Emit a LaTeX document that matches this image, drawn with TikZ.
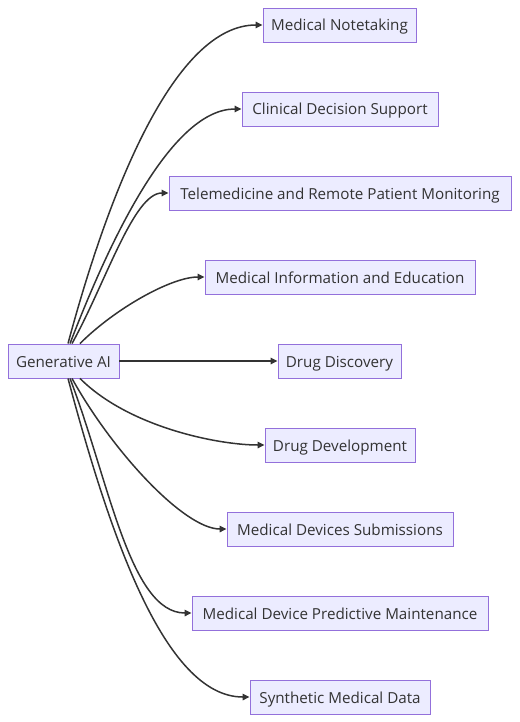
\documentclass[tikz,border=0pt]{standalone}
\usepackage{fontspec}
\setmainfont{Open Sans}
\usetikzlibrary{arrows.meta}
\definecolor{boxfill}{HTML}{ECECFF}
\definecolor{boxline}{HTML}{9370DB}
\definecolor{edgeline}{HTML}{333333}

\begin{document}
\begin{tikzpicture}[x=1pt,y=-1pt,
    every node/.style={draw=boxline,fill=boxfill,line width=0.9pt,minimum height=34pt,inner xsep=0pt,text height=13pt,text depth=1pt,font=\fontsize{15.2}{17}\selectfont,text=edgeline},
    edge/.style={draw=edgeline,line width=1.5pt,-{Triangle[length=7pt,width=6.5pt]}}]
    \useasboundingbox (0,0) rectangle (519,722);
    \node[minimum width=111pt] (genai) at (63.5,361) {Generative AI};
    \node[minimum width=153pt] (notes) at (339.5,25) {Medical Notetaking};
    \node[minimum width=196pt] (cds) at (340,109) {Clinical Decision Support};
    \node[minimum width=342pt] (tele) at (340,193) {Telemedicine and Remote Patient Monitoring};
    \node[minimum width=270pt] (info) at (340,277) {Medical Information and Education};
    \node[minimum width=123pt] (disc) at (339.5,361) {Drug Discovery};
    \node[minimum width=150pt] (dev) at (340,445) {Drug Development};
    \node[minimum width=226pt] (subm) at (340,529) {Medical Devices Submissions};
    \node[minimum width=296pt] (maint) at (340,613) {Medical Device Predictive Maintenance};
    \node[minimum width=180pt] (synth) at (340,697) {Synthetic Medical Data};
    % edges above
    \draw[edge] ([xshift=4.5pt]genai.north) to[out=75,in=180,out looseness=1.1,in looseness=0.6] (notes.west);
    \draw[edge] ([xshift=6.5pt]genai.north) to[out=69,in=180,out looseness=1.05,in looseness=0.6] (cds.west);
    \draw[edge] ([xshift=8.5pt]genai.north) to[out=61,in=180,out looseness=1.0,in looseness=0.5] (tele.west);
    \draw[edge] ([xshift=16.5pt]genai.north) to[out=45,in=180,out looseness=0.9,in looseness=0.6] (info.west);
    \draw[edge] (genai) -- (disc);
    % edges below
    \draw[edge] ([xshift=16.5pt]genai.south) to[out=-45,in=180,out looseness=0.9,in looseness=0.6] (dev.west);
    \draw[edge] ([xshift=8.5pt]genai.south) to[out=-61,in=180,out looseness=1.0,in looseness=0.5] (subm.west);
    \draw[edge] ([xshift=6.5pt]genai.south) to[out=-69,in=180,out looseness=1.05,in looseness=0.6] (maint.west);
    \draw[edge] ([xshift=4.5pt]genai.south) to[out=-75,in=180,out looseness=1.1,in looseness=0.6] (synth.west);
\end{tikzpicture}
\end{document}
